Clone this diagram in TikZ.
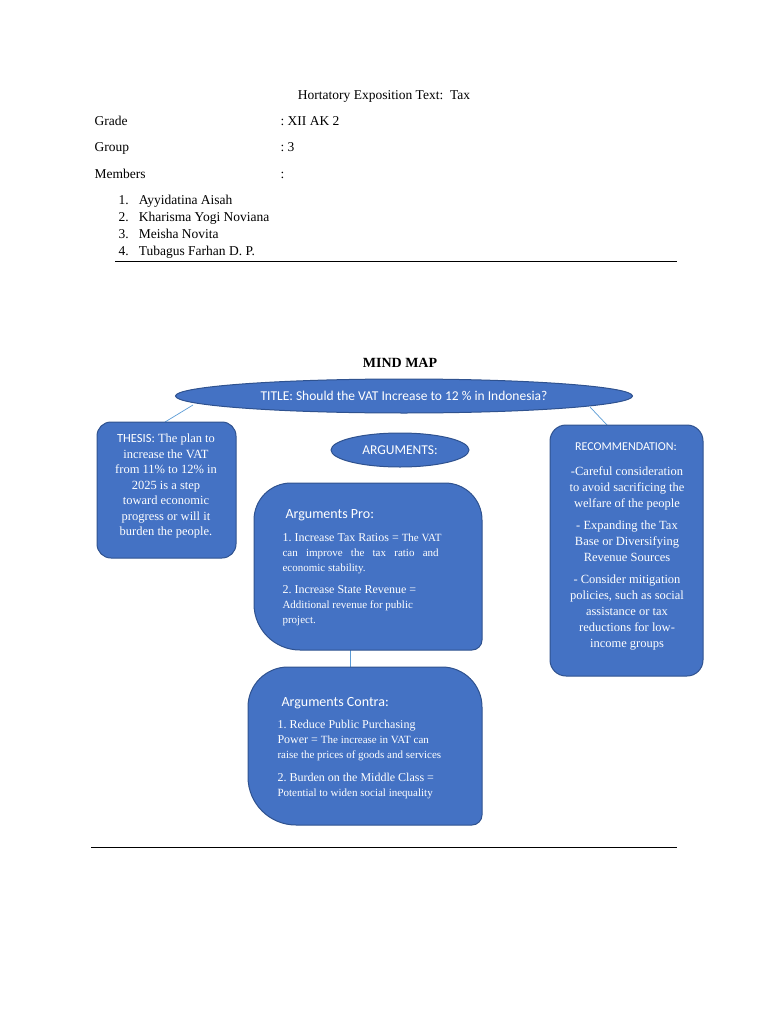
\documentclass[tikz,border=0pt]{standalone}
\usepackage{fontspec}
\setmainfont{Liberation Serif}
\newfontfamily\calfont{Carlito}
\usetikzlibrary{shapes.geometric}
\definecolor{fillb}{HTML}{4472C4}
\definecolor{edgeb}{HTML}{2F528F}
\definecolor{linkb}{HTML}{5B9BD5}
\frenchspacing
\tikzset{
 blob/.style={fill=fillb,draw=edgeb,line width=1pt},
 oval/.style={ellipse,fill=fillb,draw=edgeb,line width=1pt,text=white,font=\calfont\fontsize{13.5}{15}\selectfont},
 wtxt/.style={text=white,align=center,font=\fontsize{12.5}{15.5}\selectfont},
 hdr/.style={anchor=base west,font=\fontsize{13.5}{15}\selectfont},
 link/.style={draw=linkb,line width=0.7pt},
 btxt/.style={anchor=north west,text=white,align=left,font=\fontsize{12}{15}\selectfont}
}
\begin{document}
\begin{tikzpicture}[x=1pt,y=-1pt]
\useasboundingbox (0,0) rectangle (768,1024);
\node[anchor=base,font=\fontsize{13.5}{15}\selectfont] (ttl) at (384,100) {Hortatory Exposition Text:\ \ Tax};
\node[hdr] (g1) at (91,126) {Grade};
\node[hdr] (g2) at (277,126) {: XII AK 2};
\node[hdr] (r1) at (91,152) {Group};
\node[hdr] (r2) at (277,152) {: 3};
\node[hdr] (m1) at (91,179) {Members};
\node[hdr] (m2) at (277,179) {:};
\node[hdr] (n1) at (115,205) {1.\ \ \ Ayyidatina Aisah};
\node[hdr] (n2) at (115,222) {2.\ \ \ Kharisma Yogi Noviana};
\node[hdr] (n3) at (115,238) {3.\ \ \ Meisha Novita};
\node[hdr] (n4) at (115,255) {4.\ \ \ Tubagus Farhan D. P.};
\coordinate (l1a) at (115,261); \coordinate (l1b) at (677,261);
\draw[line width=0.6pt] (l1a) -- (l1b);
\coordinate (l2a) at (91,847); \coordinate (l2b) at (677,847);
\draw[line width=0.6pt] (l2a) -- (l2b);

\node[font=\bfseries\fontsize{14}{15}\selectfont] (mm) at (400,363) {MIND MAP};

\coordinate (c1) at (193,405); \coordinate (c2) at (165,422);
\draw[link] (c1) -- (c2);
\coordinate (c3) at (590,407); \coordinate (c4) at (607,425);
\draw[link] (c3) -- (c4);
\coordinate (c5) at (350,650); \coordinate (c6) at (350,667);
\draw[link] (c5) -- (c6);

\node[oval,minimum width=457,minimum height=34] (title) at (404,396) {TITLE: Should the VAT Increase to 12 \% in Indonesia?};
\node[oval,minimum width=138,minimum height=34] (args) at (400,450) {ARGUMENTS:};

\draw[blob,rounded corners=14] (97,422) rectangle (236,558);
\node[wtxt] (thesis) at (166,486) {{\calfont THESIS:} The plan to\\increase the VAT\\from 11\% to 12\% in\\2025 is a step\\toward economic\\progress or will it\\burden the people.};

\draw[blob,rounded corners=16] (550,425) rectangle (703,676);
\node[wtxt,font=\calfont\fontsize{12}{14}\selectfont] (rech) at (626,447) {RECOMMENDATION:};
\node[wtxt,font=\fontsize{12.5}{16}\selectfont] (rec) at (627,558) {-Careful consideration\\to avoid sacrificing the\\welfare of the people\\[6pt]- Expanding the Tax\\Base or Diversifying\\Revenue Sources\\[6pt]- Consider mitigation\\policies, such as social\\assistance or tax\\reductions for low-\\income groups};

\draw[blob] (254,520) arc[start angle=180,end angle=270,radius=37] -- (445,483) arc[start angle=270,end angle=360,radius=37] -- (482,640) arc[start angle=0,end angle=90,radius=10] -- (300,650) arc[start angle=90,end angle=180,radius=46] -- cycle;
\node[anchor=base west,text=white,font=\calfont\fontsize{14}{15}\selectfont] (proh) at (282,518) {Arguments Pro:};
\node[btxt] (pro1) at (279,530) {1. Increase Tax Ratios = {\fontsize{11}{15}\selectfont The VAT}\\{\fontsize{11}{14}\selectfont can\ \ \ improve\ \ \ the\ \ \ tax\ \ \ ratio\ \ \ and}\\{\fontsize{11}{14}\selectfont economic stability.}};
\node[btxt] (pro2) at (279,582) {2. Increase State Revenue =\\{\fontsize{11}{14}\selectfont Additional revenue for public}\\{\fontsize{11}{14}\selectfont project.}};

\draw[blob] (248,707) arc[start angle=180,end angle=270,radius=40] -- (442,667) arc[start angle=270,end angle=360,radius=40] -- (482,815) arc[start angle=0,end angle=90,radius=10] -- (296,825) arc[start angle=90,end angle=180,radius=48] -- cycle;
\node[anchor=base west,text=white,font=\calfont\fontsize{14}{15}\selectfont] (conh) at (278,706) {Arguments Contra:};
\node[btxt] (con1) at (274,717) {1. Reduce Public Purchasing\\Power = {\fontsize{11}{15}\selectfont The increase in VAT can}\\{\fontsize{11}{15}\selectfont raise the prices of goods and services}};
\node[btxt] (con2) at (274,770) {2. Burden on the Middle Class =\\{\fontsize{11}{14}\selectfont Potential to widen social inequality}};
\end{tikzpicture}
\end{document}
